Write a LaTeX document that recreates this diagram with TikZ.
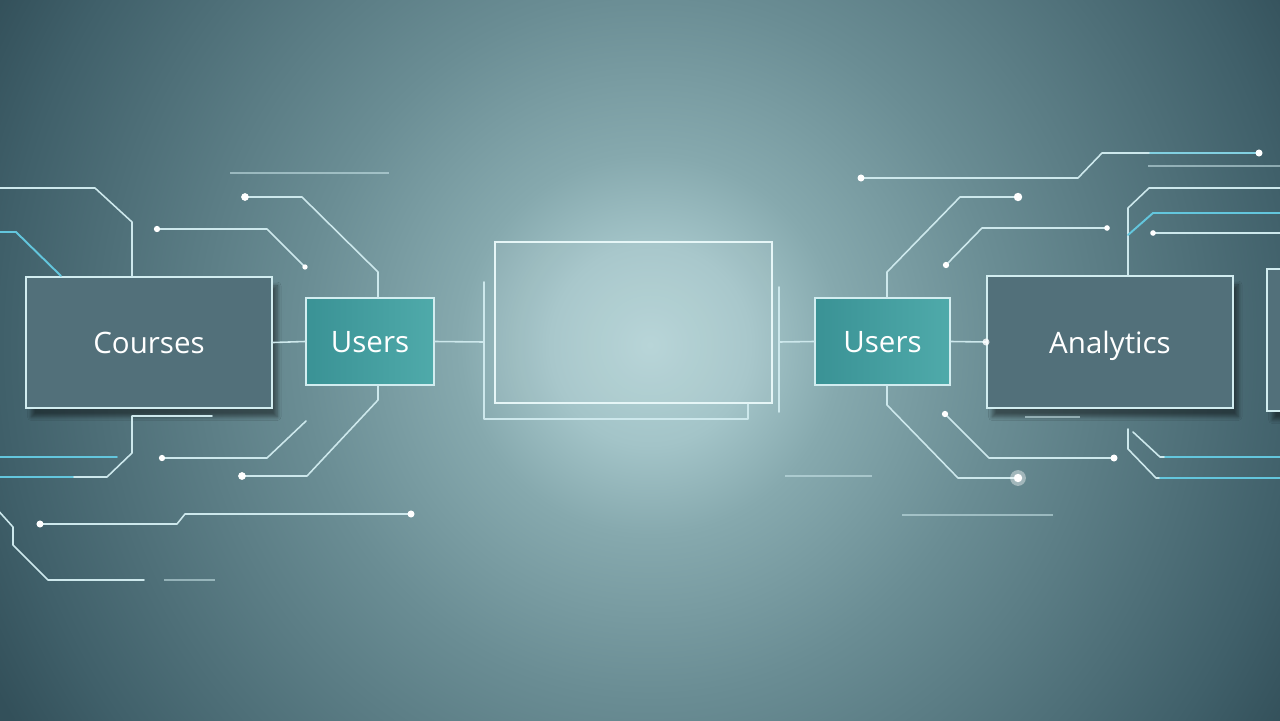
\documentclass[tikz,border=0pt]{standalone}
\usepackage{fontspec}
\setmainfont{Open Sans}
\usetikzlibrary{shadows.blur}
\definecolor{bgA}{HTML}{B4D3D6}
\definecolor{bgB}{HTML}{A3C4C8}
\definecolor{bgC}{HTML}{86A9AE}
\definecolor{bgD}{HTML}{6A8D94}
\definecolor{bgE}{HTML}{40606A}
\definecolor{bgF}{HTML}{33505A}
\definecolor{traceC}{HTML}{CDE8EC}
\definecolor{cyanC}{HTML}{63C6DD}
\definecolor{edgeC}{HTML}{D2EDF0}
\definecolor{boxC}{HTML}{52707A}
\definecolor{tealL}{HTML}{3A9295}
\definecolor{tealR}{HTML}{4FAAAA}
\definecolor{frameC}{HTML}{E6F6F7}
\pgfdeclareradialshading{bgshade}{\pgfpoint{0bp}{0bp}}{color(0bp)=(bgA); color(2.5bp)=(bgB); color(4.75bp)=(bgC); color(8.75bp)=(bgD); color(16.25bp)=(bgE); color(18.5bp)=(bgF); color(50bp)=(bgF)}
\tikzset{
  trace/.style={draw=traceC, line width=0.9pt, line cap=round, line join=round},
  ctrace/.style={draw=cyanC, line width=1.1pt, line cap=round, line join=round},
  faint/.style={draw=traceC, line width=0.8pt, opacity=0.55},
  dotc/.style={fill=white},
  box/.style={draw=edgeC, line width=1.2pt, inner sep=0pt, text=white, text depth=0pt, font=\fontsize{16.8}{20}\selectfont},
  darkbox/.style={box, fill=boxC, blur shadow={shadow xshift=3pt, shadow yshift=-5pt, shadow blur steps=8, shadow opacity=45}},
  tealbox/.style={box, left color=tealL, right color=tealR},
  framebox/.style={draw=frameC, line width=1.6pt, fill=white, fill opacity=0.06, inner sep=0pt}
}
\begin{document}
\begin{tikzpicture}[x=0.02cm,y=-0.02cm]
\useasboundingbox (0,0) rectangle (1280,720);
\clip (0,0) rectangle (1280,720);
\fill[bgF] (0,0) rectangle (1280,720);
\shade[shading=bgshade] (650,345) circle (20cm);

% nodes
\node[darkbox, minimum width=4.92cm, minimum height=2.62cm] (courses) at (149,342.5) {Courses};
\node[tealbox, minimum width=2.56cm, minimum height=1.74cm] (usersL) at (370,341.5) {Users};
\node[framebox, minimum width=5.54cm, minimum height=3.22cm] (main) at (633.5,322.5) {};
\node[tealbox, minimum width=2.7cm, minimum height=1.74cm] (usersR) at (882.5,341.5) {Users};
\node[darkbox, minimum width=4.92cm, minimum height=2.64cm] (analytics) at (1110,342) {Analytics};
\node[darkbox, minimum width=2cm, minimum height=2.84cm, anchor=west] (partial) at (1266,340) {};

% back frame brackets
\draw[trace] (484,282) -- (484,419) -- (748,419) -- (748,0 |- main.south);
\draw[trace] (779,287) -- (779,412);
\coordinate (frameL) at (484,342);
\coordinate (frameR) at (779,342);

% connectors
\draw[trace] (courses.east) -- (usersL.west);
\draw[trace] (usersL.east) -- (frameL);
\draw[trace] (frameR) -- (usersR.west);
\draw[trace] (usersR.east) -- (analytics.west);
\fill[white, opacity=0.8] (analytics.west) circle (2pt);

% left traces
\draw[trace] (-5,188) -- (95,188) -- (132,222) -- (132,0 |- courses.north);
\draw[ctrace] (-5,232) -- (16,232) -- (61,0 |- courses.north);
\draw[faint] (230,173) -- (389,173);
\draw[trace] (245,197) -- (302,197) -- (378,272) -- (378,0 |- usersL.north);
\fill[dotc] (245,197) circle (2.2pt);
\draw[trace] (157,229) -- (267,229) -- (305,267);
\fill[dotc] (157,229) circle (1.8pt);
\fill[dotc] (305,267) circle (1.5pt);
\draw[trace] (212,416) -- (132,416) -- (132,453) -- (107,477) -- (-5,477);
\draw[ctrace] (73,477) -- (-5,477);
\draw[ctrace] (-5,457) -- (117,457);
\draw[trace] (162,458) -- (267,458) -- (306,421);
\fill[dotc] (162,458) circle (1.8pt);
\draw[trace] (378,0 |- usersL.south) -- (378,400) -- (307,476) -- (242,476);
\fill[dotc] (242,476) circle (2.2pt);
\draw[trace] (40,524) -- (177,524) -- (185,514) -- (411,514);
\fill[dotc] (40,524) circle (2pt);
\fill[dotc] (411,514) circle (2pt);
\draw[trace] (-5,507) -- (13,527) -- (13,545) -- (48,580) -- (144,580);
\draw[faint] (164,580) -- (215,580);

% right traces
\draw[trace] (861,178) -- (1078,178) -- (1102,153) -- (1259,153);
\draw[ctrace, opacity=0.7] (1150,153) -- (1259,153);
\fill[dotc] (861,178) circle (2pt);
\fill[dotc] (1259,153) circle (2pt);
\draw[faint] (1148,166) -- (1285,166);
\draw[trace] (1018,197) -- (960,197) -- (887,272) -- (887,0 |- usersR.north);
\fill[dotc] (1018,197) circle (2.4pt);
\draw[trace] (946,265) -- (982,228) -- (1107,228);
\fill[dotc] (946,265) circle (1.8pt);
\fill[dotc] (1107,228) circle (1.6pt);
\draw[trace] (1128,0 |- analytics.north) -- (1128,208) -- (1149,188) -- (1285,188);
\draw[ctrace] (1128,235) -- (1153,213) -- (1285,213);
\draw[trace] (1153,233) -- (1285,233);
\fill[dotc] (1153,233) circle (1.6pt);
\draw[trace] (887,0 |- usersR.south) -- (887,405) -- (958,478) -- (1018,478);
\fill[white, opacity=0.4] (1018,478) circle (4.5pt);
\fill[dotc] (1018,478) circle (2.4pt);
\draw[trace] (945,414) -- (989,458) -- (1114,458);
\fill[dotc] (945,414) circle (1.8pt);
\fill[dotc] (1114,458) circle (2pt);
\draw[trace] (1128,429) -- (1128,449) -- (1156,478) -- (1285,478);
\draw[ctrace] (1160,478) -- (1285,478);
\draw[trace] (1133,432) -- (1160,457) -- (1285,457);
\draw[ctrace] (1165,457) -- (1285,457);
\draw[faint] (785,476) -- (872,476);
\draw[faint] (902,515) -- (1053,515);
\draw[faint] (1025,417) -- (1080,417);
\end{tikzpicture}
\end{document}
